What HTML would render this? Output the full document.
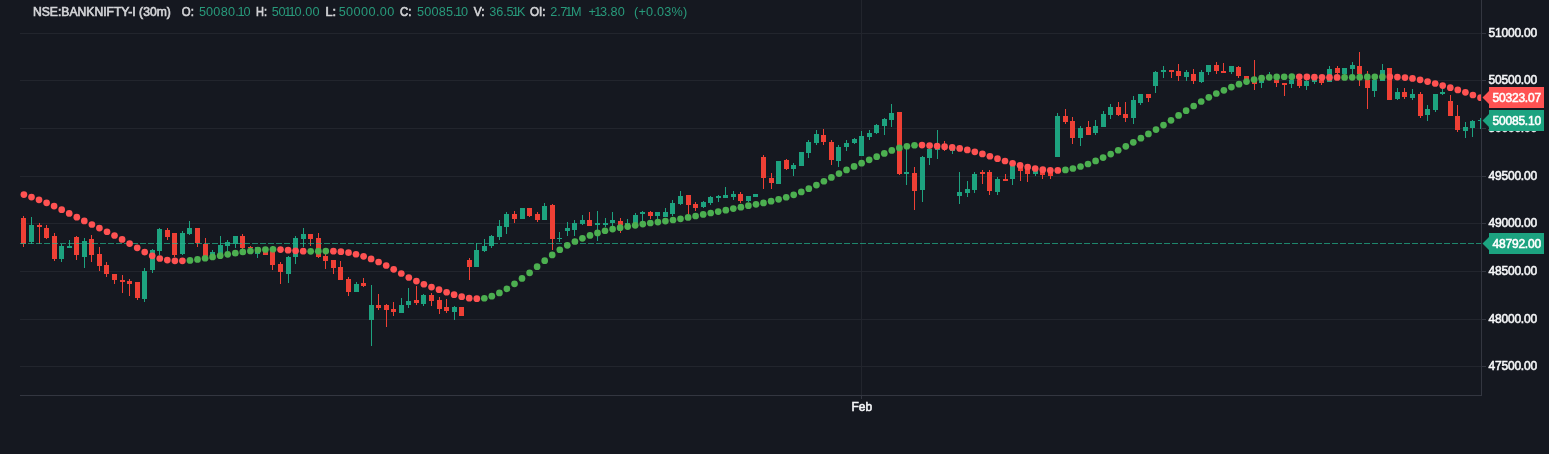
<!DOCTYPE html>
<html><head><meta charset="utf-8"><title>NSE:BANKNIFTY-I</title>
<style>
html,body{margin:0;padding:0;background:#151820;overflow:hidden}
svg{display:block;will-change:transform}
text{font-family:"Liberation Sans",sans-serif;font-size:12px}
.ax{fill:#f4f5f7;stroke:#f4f5f7;stroke-width:0.55px;letter-spacing:-0.2px}
.hl{fill:#d2d3d6;stroke:#d2d3d6;stroke-width:0.65px}
.hv{fill:#289a7b}
.lb{fill:#fff;stroke:#fff;stroke-width:0.55px;letter-spacing:-0.2px}
</style></head><body>
<svg width="1549" height="454" viewBox="0 0 1549 454">
<rect x="0" y="0" width="1549" height="454" fill="#151820"/>
<g shape-rendering="crispEdges">
<rect x="20" y="33" width="1461" height="1" fill="#22252d"/><rect x="1482" y="33" width="4" height="1" fill="#333640"/>
<rect x="20" y="80" width="1461" height="1" fill="#22252d"/><rect x="1482" y="80" width="4" height="1" fill="#333640"/>
<rect x="20" y="128" width="1461" height="1" fill="#22252d"/><rect x="1482" y="128" width="4" height="1" fill="#333640"/>
<rect x="20" y="176" width="1461" height="1" fill="#22252d"/><rect x="1482" y="176" width="4" height="1" fill="#333640"/>
<rect x="20" y="223" width="1461" height="1" fill="#22252d"/><rect x="1482" y="223" width="4" height="1" fill="#333640"/>
<rect x="20" y="271" width="1461" height="1" fill="#22252d"/><rect x="1482" y="271" width="4" height="1" fill="#333640"/>
<rect x="20" y="319" width="1461" height="1" fill="#22252d"/><rect x="1482" y="319" width="4" height="1" fill="#333640"/>
<rect x="20" y="366" width="1461" height="1" fill="#22252d"/><rect x="1482" y="366" width="4" height="1" fill="#333640"/>
<rect x="861" y="0" width="1" height="395" fill="#22252d"/>
<rect x="20" y="395" width="1462" height="1" fill="#333640"/>
<rect x="1481" y="0" width="1" height="396" fill="#333640"/>
<rect x="861" y="396" width="1" height="3" fill="#333640"/>
</g>
<text class="ax" x="1488.5" y="37">51000.00</text>
<text class="ax" x="1488.5" y="84">50500.00</text>
<text class="ax" x="1488.5" y="132">50000.00</text>
<text class="ax" x="1488.5" y="180">49500.00</text>
<text class="ax" x="1488.5" y="227">49000.00</text>
<text class="ax" x="1488.5" y="275">48500.00</text>
<text class="ax" x="1488.5" y="323">48000.00</text>
<text class="ax" x="1488.5" y="370">47500.00</text>
<text class="ax" x="851.5" y="411" style="letter-spacing:0">Feb</text>
<clipPath id="pane"><rect x="20" y="0" width="1461" height="395"/></clipPath>
<g clip-path="url(#pane)">
<g shape-rendering="crispEdges">
<rect x="23" y="216" width="1" height="31" fill="#ee4035"/><rect x="21" y="218" width="5" height="26" fill="#ee4035"/>
<rect x="31" y="217" width="1" height="27" fill="#1da27f"/><rect x="29" y="225" width="5" height="17" fill="#1da27f"/>
<rect x="39" y="223" width="1" height="21" fill="#ee4035"/><rect x="37" y="225" width="5" height="2" fill="#ee4035"/>
<rect x="46" y="225" width="1" height="14" fill="#ee4035"/><rect x="44" y="228" width="5" height="10" fill="#ee4035"/>
<rect x="54" y="233" width="1" height="28" fill="#ee4035"/><rect x="52" y="236" width="5" height="23" fill="#ee4035"/>
<rect x="61" y="244" width="1" height="18" fill="#1da27f"/><rect x="59" y="246" width="5" height="13" fill="#1da27f"/>
<rect x="69" y="240" width="1" height="8" fill="#1da27f"/><rect x="67" y="246" width="5" height="2" fill="#1da27f"/>
<rect x="76" y="236" width="1" height="24" fill="#ee4035"/><rect x="74" y="237" width="5" height="18" fill="#ee4035"/>
<rect x="84" y="238" width="1" height="30" fill="#1da27f"/><rect x="82" y="241" width="5" height="16" fill="#1da27f"/>
<rect x="91" y="235" width="1" height="27" fill="#ee4035"/><rect x="89" y="239" width="5" height="16" fill="#ee4035"/>
<rect x="99" y="247" width="1" height="24" fill="#ee4035"/><rect x="97" y="254" width="5" height="12" fill="#ee4035"/>
<rect x="106" y="262" width="1" height="15" fill="#ee4035"/><rect x="104" y="265" width="5" height="9" fill="#ee4035"/>
<rect x="114" y="274" width="1" height="10" fill="#ee4035"/><rect x="112" y="274" width="5" height="6" fill="#ee4035"/>
<rect x="122" y="275" width="1" height="18" fill="#ee4035"/><rect x="120" y="280" width="5" height="2" fill="#ee4035"/>
<rect x="129" y="279" width="1" height="17" fill="#ee4035"/><rect x="127" y="281" width="5" height="3" fill="#ee4035"/>
<rect x="137" y="282" width="1" height="18" fill="#ee4035"/><rect x="135" y="282" width="5" height="16" fill="#ee4035"/>
<rect x="144" y="268" width="1" height="34" fill="#1da27f"/><rect x="142" y="271" width="5" height="28" fill="#1da27f"/>
<rect x="152" y="249" width="1" height="24" fill="#1da27f"/><rect x="150" y="250" width="5" height="20" fill="#1da27f"/>
<rect x="159" y="228" width="1" height="27" fill="#1da27f"/><rect x="157" y="229" width="5" height="22" fill="#1da27f"/>
<rect x="167" y="228" width="1" height="12" fill="#ee4035"/><rect x="165" y="230" width="5" height="7" fill="#ee4035"/>
<rect x="174" y="233" width="1" height="24" fill="#ee4035"/><rect x="172" y="233" width="5" height="22" fill="#ee4035"/>
<rect x="182" y="231" width="1" height="24" fill="#1da27f"/><rect x="180" y="233" width="5" height="21" fill="#1da27f"/>
<rect x="189" y="221" width="1" height="14" fill="#1da27f"/><rect x="187" y="228" width="5" height="6" fill="#1da27f"/>
<rect x="197" y="228" width="1" height="19" fill="#ee4035"/><rect x="195" y="228" width="5" height="15" fill="#ee4035"/>
<rect x="205" y="238" width="1" height="19" fill="#ee4035"/><rect x="203" y="244" width="5" height="12" fill="#ee4035"/>
<rect x="212" y="250" width="1" height="5" fill="#1da27f"/><rect x="210" y="252" width="5" height="3" fill="#1da27f"/>
<rect x="220" y="236" width="1" height="19" fill="#1da27f"/><rect x="218" y="245" width="5" height="9" fill="#1da27f"/>
<rect x="227" y="240" width="1" height="11" fill="#1da27f"/><rect x="225" y="242" width="5" height="4" fill="#1da27f"/>
<rect x="235" y="236" width="1" height="12" fill="#1da27f"/><rect x="233" y="236" width="5" height="8" fill="#1da27f"/>
<rect x="242" y="234" width="1" height="16" fill="#ee4035"/><rect x="240" y="236" width="5" height="12" fill="#ee4035"/>
<rect x="250" y="246" width="1" height="3" fill="#ee4035"/><rect x="248" y="247" width="5" height="1" fill="#ee4035"/>
<rect x="257" y="247" width="1" height="11" fill="#1da27f"/><rect x="255" y="247" width="5" height="7" fill="#1da27f"/>
<rect x="265" y="251" width="1" height="4" fill="#ee4035"/><rect x="263" y="252" width="5" height="3" fill="#ee4035"/>
<rect x="272" y="246" width="1" height="24" fill="#ee4035"/><rect x="270" y="250" width="5" height="15" fill="#ee4035"/>
<rect x="280" y="262" width="1" height="22" fill="#ee4035"/><rect x="278" y="264" width="5" height="8" fill="#ee4035"/>
<rect x="288" y="256" width="1" height="27" fill="#1da27f"/><rect x="286" y="257" width="5" height="17" fill="#1da27f"/>
<rect x="295" y="236" width="1" height="28" fill="#1da27f"/><rect x="293" y="238" width="5" height="19" fill="#1da27f"/>
<rect x="303" y="228" width="1" height="19" fill="#1da27f"/><rect x="301" y="234" width="5" height="5" fill="#1da27f"/>
<rect x="310" y="234" width="1" height="12" fill="#ee4035"/><rect x="308" y="234" width="5" height="5" fill="#ee4035"/>
<rect x="318" y="233" width="1" height="25" fill="#ee4035"/><rect x="316" y="238" width="5" height="19" fill="#ee4035"/>
<rect x="325" y="254" width="1" height="15" fill="#ee4035"/><rect x="323" y="256" width="5" height="5" fill="#ee4035"/>
<rect x="333" y="260" width="1" height="14" fill="#ee4035"/><rect x="331" y="260" width="5" height="8" fill="#ee4035"/>
<rect x="340" y="261" width="1" height="19" fill="#ee4035"/><rect x="338" y="267" width="5" height="13" fill="#ee4035"/>
<rect x="348" y="277" width="1" height="19" fill="#ee4035"/><rect x="346" y="279" width="5" height="13" fill="#ee4035"/>
<rect x="356" y="282" width="1" height="10" fill="#1da27f"/><rect x="354" y="284" width="5" height="8" fill="#1da27f"/>
<rect x="363" y="278" width="1" height="9" fill="#ee4035"/><rect x="361" y="283" width="5" height="3" fill="#ee4035"/>
<rect x="371" y="285" width="1" height="61" fill="#1da27f"/><rect x="369" y="305" width="5" height="15" fill="#1da27f"/>
<rect x="378" y="294" width="1" height="16" fill="#ee4035"/><rect x="376" y="305" width="5" height="3" fill="#ee4035"/>
<rect x="386" y="304" width="1" height="23" fill="#ee4035"/><rect x="384" y="305" width="5" height="5" fill="#ee4035"/>
<rect x="393" y="302" width="1" height="14" fill="#ee4035"/><rect x="391" y="309" width="5" height="3" fill="#ee4035"/>
<rect x="401" y="298" width="1" height="15" fill="#1da27f"/><rect x="399" y="305" width="5" height="8" fill="#1da27f"/>
<rect x="408" y="288" width="1" height="20" fill="#1da27f"/><rect x="406" y="301" width="5" height="4" fill="#1da27f"/>
<rect x="416" y="286" width="1" height="19" fill="#ee4035"/><rect x="414" y="300" width="5" height="3" fill="#ee4035"/>
<rect x="423" y="294" width="1" height="12" fill="#1da27f"/><rect x="421" y="295" width="5" height="9" fill="#1da27f"/>
<rect x="431" y="293" width="1" height="13" fill="#ee4035"/><rect x="429" y="295" width="5" height="6" fill="#ee4035"/>
<rect x="439" y="297" width="1" height="17" fill="#ee4035"/><rect x="437" y="300" width="5" height="9" fill="#ee4035"/>
<rect x="446" y="299" width="1" height="14" fill="#ee4035"/><rect x="444" y="307" width="5" height="4" fill="#ee4035"/>
<rect x="454" y="306" width="1" height="14" fill="#1da27f"/><rect x="452" y="307" width="5" height="5" fill="#1da27f"/>
<rect x="461" y="307" width="1" height="9" fill="#ee4035"/><rect x="459" y="307" width="5" height="9" fill="#ee4035"/>
<rect x="469" y="258" width="1" height="22" fill="#ee4035"/><rect x="467" y="260" width="5" height="7" fill="#ee4035"/>
<rect x="476" y="243" width="1" height="24" fill="#1da27f"/><rect x="474" y="250" width="5" height="17" fill="#1da27f"/>
<rect x="484" y="239" width="1" height="13" fill="#1da27f"/><rect x="482" y="246" width="5" height="5" fill="#1da27f"/>
<rect x="491" y="235" width="1" height="13" fill="#1da27f"/><rect x="489" y="236" width="5" height="10" fill="#1da27f"/>
<rect x="499" y="220" width="1" height="20" fill="#1da27f"/><rect x="497" y="226" width="5" height="11" fill="#1da27f"/>
<rect x="506" y="212" width="1" height="22" fill="#1da27f"/><rect x="504" y="214" width="5" height="13" fill="#1da27f"/>
<rect x="514" y="211" width="1" height="12" fill="#ee4035"/><rect x="512" y="214" width="5" height="5" fill="#ee4035"/>
<rect x="522" y="208" width="1" height="11" fill="#1da27f"/><rect x="520" y="208" width="5" height="11" fill="#1da27f"/>
<rect x="529" y="208" width="1" height="9" fill="#ee4035"/><rect x="527" y="208" width="5" height="8" fill="#ee4035"/>
<rect x="537" y="212" width="1" height="10" fill="#ee4035"/><rect x="535" y="214" width="5" height="6" fill="#ee4035"/>
<rect x="544" y="203" width="1" height="17" fill="#1da27f"/><rect x="542" y="206" width="5" height="14" fill="#1da27f"/>
<rect x="552" y="204" width="1" height="46" fill="#ee4035"/><rect x="550" y="205" width="5" height="34" fill="#ee4035"/>
<rect x="559" y="232" width="1" height="10" fill="#1da27f"/><rect x="557" y="238" width="5" height="1" fill="#1da27f"/>
<rect x="567" y="222" width="1" height="14" fill="#1da27f"/><rect x="565" y="228" width="5" height="3" fill="#1da27f"/>
<rect x="574" y="220" width="1" height="16" fill="#1da27f"/><rect x="572" y="223" width="5" height="7" fill="#1da27f"/>
<rect x="582" y="215" width="1" height="10" fill="#1da27f"/><rect x="580" y="220" width="5" height="4" fill="#1da27f"/>
<rect x="589" y="212" width="1" height="14" fill="#ee4035"/><rect x="587" y="220" width="5" height="6" fill="#ee4035"/>
<rect x="597" y="211" width="1" height="30" fill="#1da27f"/><rect x="595" y="223" width="5" height="2" fill="#1da27f"/>
<rect x="605" y="218" width="1" height="9" fill="#1da27f"/><rect x="603" y="223" width="5" height="2" fill="#1da27f"/>
<rect x="612" y="212" width="1" height="14" fill="#1da27f"/><rect x="610" y="220" width="5" height="3" fill="#1da27f"/>
<rect x="620" y="218" width="1" height="15" fill="#ee4035"/><rect x="618" y="221" width="5" height="4" fill="#ee4035"/>
<rect x="627" y="219" width="1" height="6" fill="#1da27f"/><rect x="625" y="223" width="5" height="2" fill="#1da27f"/>
<rect x="635" y="213" width="1" height="10" fill="#1da27f"/><rect x="633" y="215" width="5" height="8" fill="#1da27f"/>
<rect x="642" y="211" width="1" height="10" fill="#1da27f"/><rect x="640" y="212" width="5" height="2" fill="#1da27f"/>
<rect x="650" y="211" width="1" height="8" fill="#ee4035"/><rect x="648" y="212" width="5" height="4" fill="#ee4035"/>
<rect x="657" y="212" width="1" height="7" fill="#1da27f"/><rect x="655" y="212" width="5" height="4" fill="#1da27f"/>
<rect x="665" y="208" width="1" height="9" fill="#1da27f"/><rect x="663" y="212" width="5" height="5" fill="#1da27f"/>
<rect x="672" y="200" width="1" height="16" fill="#1da27f"/><rect x="670" y="203" width="5" height="11" fill="#1da27f"/>
<rect x="680" y="191" width="1" height="14" fill="#1da27f"/><rect x="678" y="196" width="5" height="8" fill="#1da27f"/>
<rect x="688" y="195" width="1" height="19" fill="#ee4035"/><rect x="686" y="195" width="5" height="10" fill="#ee4035"/>
<rect x="695" y="202" width="1" height="9" fill="#ee4035"/><rect x="693" y="204" width="5" height="4" fill="#ee4035"/>
<rect x="703" y="201" width="1" height="7" fill="#1da27f"/><rect x="701" y="202" width="5" height="5" fill="#1da27f"/>
<rect x="710" y="196" width="1" height="9" fill="#1da27f"/><rect x="708" y="197" width="5" height="6" fill="#1da27f"/>
<rect x="718" y="195" width="1" height="7" fill="#1da27f"/><rect x="716" y="196" width="5" height="2" fill="#1da27f"/>
<rect x="725" y="187" width="1" height="11" fill="#1da27f"/><rect x="723" y="195" width="5" height="3" fill="#1da27f"/>
<rect x="733" y="191" width="1" height="9" fill="#1da27f"/><rect x="731" y="194" width="5" height="3" fill="#1da27f"/>
<rect x="740" y="192" width="1" height="11" fill="#ee4035"/><rect x="738" y="194" width="5" height="7" fill="#ee4035"/>
<rect x="748" y="196" width="1" height="6" fill="#1da27f"/><rect x="746" y="196" width="5" height="5" fill="#1da27f"/>
<rect x="755" y="194" width="1" height="3" fill="#1da27f"/><rect x="753" y="194" width="5" height="3" fill="#1da27f"/>
<rect x="763" y="155" width="1" height="34" fill="#ee4035"/><rect x="761" y="157" width="5" height="21" fill="#ee4035"/>
<rect x="771" y="173" width="1" height="16" fill="#ee4035"/><rect x="769" y="178" width="5" height="5" fill="#ee4035"/>
<rect x="778" y="161" width="1" height="23" fill="#1da27f"/><rect x="776" y="161" width="5" height="23" fill="#1da27f"/>
<rect x="786" y="159" width="1" height="11" fill="#ee4035"/><rect x="784" y="160" width="5" height="9" fill="#ee4035"/>
<rect x="793" y="163" width="1" height="13" fill="#1da27f"/><rect x="791" y="165" width="5" height="4" fill="#1da27f"/>
<rect x="801" y="152" width="1" height="14" fill="#1da27f"/><rect x="799" y="152" width="5" height="14" fill="#1da27f"/>
<rect x="808" y="140" width="1" height="18" fill="#1da27f"/><rect x="806" y="142" width="5" height="11" fill="#1da27f"/>
<rect x="816" y="130" width="1" height="15" fill="#1da27f"/><rect x="814" y="134" width="5" height="9" fill="#1da27f"/>
<rect x="823" y="129" width="1" height="16" fill="#ee4035"/><rect x="821" y="135" width="5" height="7" fill="#ee4035"/>
<rect x="831" y="140" width="1" height="25" fill="#ee4035"/><rect x="829" y="142" width="5" height="18" fill="#ee4035"/>
<rect x="838" y="145" width="1" height="22" fill="#1da27f"/><rect x="836" y="147" width="5" height="14" fill="#1da27f"/>
<rect x="846" y="140" width="1" height="11" fill="#1da27f"/><rect x="844" y="143" width="5" height="4" fill="#1da27f"/>
<rect x="854" y="138" width="1" height="6" fill="#1da27f"/><rect x="852" y="139" width="5" height="4" fill="#1da27f"/>
<rect x="861" y="131" width="1" height="25" fill="#1da27f"/><rect x="859" y="136" width="5" height="20" fill="#1da27f"/>
<rect x="869" y="130" width="1" height="10" fill="#1da27f"/><rect x="867" y="133" width="5" height="4" fill="#1da27f"/>
<rect x="876" y="124" width="1" height="10" fill="#1da27f"/><rect x="874" y="125" width="5" height="8" fill="#1da27f"/>
<rect x="884" y="118" width="1" height="17" fill="#1da27f"/><rect x="882" y="119" width="5" height="7" fill="#1da27f"/>
<rect x="891" y="104" width="1" height="23" fill="#1da27f"/><rect x="889" y="113" width="5" height="7" fill="#1da27f"/>
<rect x="899" y="112" width="1" height="63" fill="#ee4035"/><rect x="897" y="112" width="5" height="62" fill="#ee4035"/>
<rect x="906" y="147" width="1" height="38" fill="#1da27f"/><rect x="904" y="172" width="5" height="2" fill="#1da27f"/>
<rect x="914" y="167" width="1" height="43" fill="#ee4035"/><rect x="912" y="173" width="5" height="18" fill="#ee4035"/>
<rect x="922" y="156" width="1" height="46" fill="#1da27f"/><rect x="920" y="157" width="5" height="33" fill="#1da27f"/>
<rect x="929" y="148" width="1" height="17" fill="#1da27f"/><rect x="927" y="149" width="5" height="9" fill="#1da27f"/>
<rect x="937" y="130" width="1" height="29" fill="#1da27f"/><rect x="935" y="148" width="5" height="2" fill="#1da27f"/>
<rect x="944" y="141" width="1" height="10" fill="#ee4035"/><rect x="942" y="145" width="5" height="4" fill="#ee4035"/>
<rect x="952" y="149" width="1" height="5" fill="#1da27f"/><rect x="950" y="149" width="5" height="2" fill="#1da27f"/>
<rect x="959" y="172" width="1" height="32" fill="#1da27f"/><rect x="957" y="192" width="5" height="4" fill="#1da27f"/>
<rect x="967" y="181" width="1" height="16" fill="#1da27f"/><rect x="965" y="189" width="5" height="4" fill="#1da27f"/>
<rect x="974" y="172" width="1" height="21" fill="#1da27f"/><rect x="972" y="174" width="5" height="16" fill="#1da27f"/>
<rect x="982" y="170" width="1" height="14" fill="#ee4035"/><rect x="980" y="172" width="5" height="2" fill="#ee4035"/>
<rect x="989" y="170" width="1" height="25" fill="#ee4035"/><rect x="987" y="172" width="5" height="19" fill="#ee4035"/>
<rect x="997" y="177" width="1" height="18" fill="#1da27f"/><rect x="995" y="179" width="5" height="13" fill="#1da27f"/>
<rect x="1005" y="174" width="1" height="7" fill="#ee4035"/><rect x="1003" y="179" width="5" height="2" fill="#ee4035"/>
<rect x="1012" y="165" width="1" height="20" fill="#1da27f"/><rect x="1010" y="166" width="5" height="13" fill="#1da27f"/>
<rect x="1020" y="166" width="1" height="15" fill="#ee4035"/><rect x="1018" y="166" width="5" height="5" fill="#ee4035"/>
<rect x="1027" y="168" width="1" height="14" fill="#ee4035"/><rect x="1025" y="169" width="5" height="5" fill="#ee4035"/>
<rect x="1035" y="170" width="1" height="6" fill="#1da27f"/><rect x="1033" y="170" width="5" height="4" fill="#1da27f"/>
<rect x="1042" y="170" width="1" height="9" fill="#ee4035"/><rect x="1040" y="171" width="5" height="4" fill="#ee4035"/>
<rect x="1050" y="171" width="1" height="8" fill="#ee4035"/><rect x="1048" y="172" width="5" height="4" fill="#ee4035"/>
<rect x="1057" y="113" width="1" height="44" fill="#1da27f"/><rect x="1055" y="116" width="5" height="41" fill="#1da27f"/>
<rect x="1065" y="109" width="1" height="15" fill="#ee4035"/><rect x="1063" y="116" width="5" height="6" fill="#ee4035"/>
<rect x="1072" y="117" width="1" height="27" fill="#ee4035"/><rect x="1070" y="121" width="5" height="17" fill="#ee4035"/>
<rect x="1080" y="126" width="1" height="20" fill="#1da27f"/><rect x="1078" y="128" width="5" height="10" fill="#1da27f"/>
<rect x="1088" y="121" width="1" height="14" fill="#ee4035"/><rect x="1086" y="127" width="5" height="8" fill="#ee4035"/>
<rect x="1095" y="120" width="1" height="15" fill="#1da27f"/><rect x="1093" y="126" width="5" height="7" fill="#1da27f"/>
<rect x="1103" y="111" width="1" height="16" fill="#1da27f"/><rect x="1101" y="114" width="5" height="13" fill="#1da27f"/>
<rect x="1110" y="104" width="1" height="15" fill="#1da27f"/><rect x="1108" y="107" width="5" height="8" fill="#1da27f"/>
<rect x="1118" y="102" width="1" height="14" fill="#ee4035"/><rect x="1116" y="107" width="5" height="8" fill="#ee4035"/>
<rect x="1125" y="102" width="1" height="20" fill="#ee4035"/><rect x="1123" y="114" width="5" height="4" fill="#ee4035"/>
<rect x="1133" y="96" width="1" height="28" fill="#1da27f"/><rect x="1131" y="100" width="5" height="18" fill="#1da27f"/>
<rect x="1140" y="94" width="1" height="11" fill="#1da27f"/><rect x="1138" y="94" width="5" height="9" fill="#1da27f"/>
<rect x="1148" y="94" width="1" height="8" fill="#ee4035"/><rect x="1146" y="94" width="5" height="4" fill="#ee4035"/>
<rect x="1155" y="71" width="1" height="22" fill="#1da27f"/><rect x="1153" y="72" width="5" height="14" fill="#1da27f"/>
<rect x="1163" y="66" width="1" height="12" fill="#1da27f"/><rect x="1161" y="70" width="5" height="2" fill="#1da27f"/>
<rect x="1171" y="70" width="1" height="8" fill="#ee4035"/><rect x="1169" y="70" width="5" height="2" fill="#ee4035"/>
<rect x="1178" y="64" width="1" height="17" fill="#ee4035"/><rect x="1176" y="71" width="5" height="5" fill="#ee4035"/>
<rect x="1186" y="70" width="1" height="11" fill="#1da27f"/><rect x="1184" y="72" width="5" height="5" fill="#1da27f"/>
<rect x="1193" y="69" width="1" height="15" fill="#ee4035"/><rect x="1191" y="74" width="5" height="7" fill="#ee4035"/>
<rect x="1201" y="70" width="1" height="13" fill="#1da27f"/><rect x="1199" y="72" width="5" height="10" fill="#1da27f"/>
<rect x="1208" y="65" width="1" height="10" fill="#1da27f"/><rect x="1206" y="65" width="5" height="7" fill="#1da27f"/>
<rect x="1216" y="62" width="1" height="12" fill="#ee4035"/><rect x="1214" y="65" width="5" height="6" fill="#ee4035"/>
<rect x="1223" y="63" width="1" height="10" fill="#ee4035"/><rect x="1221" y="71" width="5" height="2" fill="#ee4035"/>
<rect x="1231" y="66" width="1" height="8" fill="#1da27f"/><rect x="1229" y="66" width="5" height="6" fill="#1da27f"/>
<rect x="1238" y="66" width="1" height="12" fill="#ee4035"/><rect x="1236" y="67" width="5" height="9" fill="#ee4035"/>
<rect x="1246" y="76" width="1" height="4" fill="#ee4035"/><rect x="1244" y="76" width="5" height="3" fill="#ee4035"/>
<rect x="1254" y="60" width="1" height="30" fill="#ee4035"/><rect x="1252" y="81" width="5" height="3" fill="#ee4035"/>
<rect x="1261" y="80" width="1" height="8" fill="#1da27f"/><rect x="1259" y="81" width="5" height="2" fill="#1da27f"/>
<rect x="1269" y="72" width="1" height="8" fill="#1da27f"/><rect x="1267" y="76" width="5" height="2" fill="#1da27f"/>
<rect x="1276" y="78" width="1" height="9" fill="#ee4035"/><rect x="1274" y="80" width="5" height="3" fill="#ee4035"/>
<rect x="1284" y="83" width="1" height="13" fill="#ee4035"/><rect x="1282" y="83" width="5" height="2" fill="#ee4035"/>
<rect x="1291" y="80" width="1" height="8" fill="#1da27f"/><rect x="1289" y="80" width="5" height="4" fill="#1da27f"/>
<rect x="1299" y="78" width="1" height="10" fill="#ee4035"/><rect x="1297" y="80" width="5" height="6" fill="#ee4035"/>
<rect x="1306" y="80" width="1" height="10" fill="#1da27f"/><rect x="1304" y="81" width="5" height="5" fill="#1da27f"/>
<rect x="1314" y="78" width="1" height="6" fill="#1da27f"/><rect x="1312" y="80" width="5" height="2" fill="#1da27f"/>
<rect x="1321" y="78" width="1" height="7" fill="#ee4035"/><rect x="1319" y="80" width="5" height="3" fill="#ee4035"/>
<rect x="1329" y="66" width="1" height="16" fill="#1da27f"/><rect x="1327" y="69" width="5" height="13" fill="#1da27f"/>
<rect x="1337" y="66" width="1" height="8" fill="#ee4035"/><rect x="1335" y="68" width="5" height="5" fill="#ee4035"/>
<rect x="1344" y="68" width="1" height="7" fill="#1da27f"/><rect x="1342" y="68" width="5" height="6" fill="#1da27f"/>
<rect x="1352" y="62" width="1" height="12" fill="#1da27f"/><rect x="1350" y="65" width="5" height="4" fill="#1da27f"/>
<rect x="1359" y="52" width="1" height="34" fill="#ee4035"/><rect x="1357" y="66" width="5" height="8" fill="#ee4035"/>
<rect x="1367" y="71" width="1" height="38" fill="#ee4035"/><rect x="1365" y="80" width="5" height="8" fill="#ee4035"/>
<rect x="1374" y="80" width="1" height="17" fill="#1da27f"/><rect x="1372" y="80" width="5" height="11" fill="#1da27f"/>
<rect x="1382" y="64" width="1" height="17" fill="#1da27f"/><rect x="1380" y="70" width="5" height="11" fill="#1da27f"/>
<rect x="1389" y="68" width="1" height="32" fill="#ee4035"/><rect x="1387" y="68" width="5" height="32" fill="#ee4035"/>
<rect x="1397" y="88" width="1" height="12" fill="#1da27f"/><rect x="1395" y="92" width="5" height="7" fill="#1da27f"/>
<rect x="1404" y="88" width="1" height="11" fill="#ee4035"/><rect x="1402" y="92" width="5" height="5" fill="#ee4035"/>
<rect x="1412" y="89" width="1" height="11" fill="#1da27f"/><rect x="1410" y="94" width="5" height="4" fill="#1da27f"/>
<rect x="1420" y="92" width="1" height="26" fill="#ee4035"/><rect x="1418" y="94" width="5" height="22" fill="#ee4035"/>
<rect x="1427" y="105" width="1" height="16" fill="#1da27f"/><rect x="1425" y="109" width="5" height="6" fill="#1da27f"/>
<rect x="1435" y="94" width="1" height="18" fill="#1da27f"/><rect x="1433" y="94" width="5" height="16" fill="#1da27f"/>
<rect x="1442" y="89" width="1" height="6" fill="#1da27f"/><rect x="1440" y="92" width="5" height="2" fill="#1da27f"/>
<rect x="1450" y="95" width="1" height="21" fill="#ee4035"/><rect x="1448" y="101" width="5" height="15" fill="#ee4035"/>
<rect x="1457" y="105" width="1" height="27" fill="#ee4035"/><rect x="1455" y="116" width="5" height="14" fill="#ee4035"/>
<rect x="1465" y="122" width="1" height="16" fill="#1da27f"/><rect x="1463" y="127" width="5" height="4" fill="#1da27f"/>
<rect x="1472" y="120" width="1" height="17" fill="#1da27f"/><rect x="1470" y="121" width="5" height="7" fill="#1da27f"/>
<rect x="1480" y="118" width="1" height="11" fill="#1da27f"/><rect x="1478" y="120" width="5" height="1" fill="#1da27f"/>
</g>
<line x1="20" y1="243.5" x2="1483" y2="243.5" stroke="#22b48d" stroke-opacity="0.7" stroke-width="1" stroke-dasharray="6 2" shape-rendering="crispEdges"/>
<g>
<circle cx="23.9" cy="194.59" r="3.35" fill="#ff5252"/>
<circle cx="31.5" cy="197.10" r="3.35" fill="#ff5252"/>
<circle cx="39.0" cy="199.81" r="3.35" fill="#ff5252"/>
<circle cx="46.6" cy="202.82" r="3.35" fill="#ff5252"/>
<circle cx="54.1" cy="206.12" r="3.35" fill="#ff5252"/>
<circle cx="61.7" cy="209.72" r="3.35" fill="#ff5252"/>
<circle cx="69.2" cy="213.45" r="3.35" fill="#ff5252"/>
<circle cx="76.8" cy="217.17" r="3.35" fill="#ff5252"/>
<circle cx="84.3" cy="220.88" r="3.35" fill="#ff5252"/>
<circle cx="91.9" cy="224.50" r="3.35" fill="#ff5252"/>
<circle cx="99.4" cy="228.07" r="3.35" fill="#ff5252"/>
<circle cx="107.0" cy="231.77" r="3.35" fill="#ff5252"/>
<circle cx="114.5" cy="235.51" r="3.35" fill="#ff5252"/>
<circle cx="122.1" cy="239.40" r="3.35" fill="#ff5252"/>
<circle cx="129.6" cy="243.55" r="3.35" fill="#ff5252"/>
<circle cx="137.2" cy="247.84" r="3.35" fill="#ff5252"/>
<circle cx="144.7" cy="252.10" r="3.35" fill="#ff5252"/>
<circle cx="152.2" cy="255.84" r="3.35" fill="#ff5252"/>
<circle cx="159.8" cy="258.52" r="3.35" fill="#ff5252"/>
<circle cx="167.3" cy="260.12" r="3.35" fill="#ff5252"/>
<circle cx="174.9" cy="260.83" r="3.35" fill="#ff5252"/>
<circle cx="182.4" cy="260.80" r="3.35" fill="#ff5252"/>
<circle cx="190.0" cy="260.40" r="3.35" fill="#4caf50"/>
<circle cx="197.5" cy="259.46" r="3.35" fill="#4caf50"/>
<circle cx="205.1" cy="258.25" r="3.35" fill="#4caf50"/>
<circle cx="212.6" cy="256.97" r="3.35" fill="#4caf50"/>
<circle cx="220.2" cy="255.65" r="3.35" fill="#4caf50"/>
<circle cx="227.7" cy="254.35" r="3.35" fill="#4caf50"/>
<circle cx="235.3" cy="253.15" r="3.35" fill="#4caf50"/>
<circle cx="242.8" cy="251.96" r="3.35" fill="#4caf50"/>
<circle cx="250.4" cy="250.98" r="3.35" fill="#4caf50"/>
<circle cx="257.9" cy="250.09" r="3.35" fill="#4caf50"/>
<circle cx="265.4" cy="249.48" r="3.35" fill="#4caf50"/>
<circle cx="273.0" cy="249.25" r="3.35" fill="#4caf50"/>
<circle cx="280.5" cy="249.55" r="3.35" fill="#ff5252"/>
<circle cx="288.1" cy="250.15" r="3.35" fill="#ff5252"/>
<circle cx="295.6" cy="250.78" r="3.35" fill="#ff5252"/>
<circle cx="303.2" cy="251.15" r="3.35" fill="#ff5252"/>
<circle cx="310.7" cy="251.28" r="3.35" fill="#4caf50"/>
<circle cx="318.3" cy="251.18" r="3.35" fill="#4caf50"/>
<circle cx="325.8" cy="251.12" r="3.35" fill="#4caf50"/>
<circle cx="333.4" cy="251.22" r="3.35" fill="#ff5252"/>
<circle cx="340.9" cy="251.68" r="3.35" fill="#ff5252"/>
<circle cx="348.5" cy="252.68" r="3.35" fill="#ff5252"/>
<circle cx="356.0" cy="254.25" r="3.35" fill="#ff5252"/>
<circle cx="363.6" cy="256.37" r="3.35" fill="#ff5252"/>
<circle cx="371.1" cy="258.94" r="3.35" fill="#ff5252"/>
<circle cx="378.6" cy="261.98" r="3.35" fill="#ff5252"/>
<circle cx="386.2" cy="265.52" r="3.35" fill="#ff5252"/>
<circle cx="393.7" cy="269.35" r="3.35" fill="#ff5252"/>
<circle cx="401.3" cy="273.48" r="3.35" fill="#ff5252"/>
<circle cx="408.8" cy="277.49" r="3.35" fill="#ff5252"/>
<circle cx="416.4" cy="281.07" r="3.35" fill="#ff5252"/>
<circle cx="423.9" cy="284.25" r="3.35" fill="#ff5252"/>
<circle cx="431.5" cy="287.11" r="3.35" fill="#ff5252"/>
<circle cx="439.0" cy="289.68" r="3.35" fill="#ff5252"/>
<circle cx="446.6" cy="292.27" r="3.35" fill="#ff5252"/>
<circle cx="454.1" cy="294.66" r="3.35" fill="#ff5252"/>
<circle cx="461.7" cy="296.69" r="3.35" fill="#ff5252"/>
<circle cx="469.2" cy="298.15" r="3.35" fill="#ff5252"/>
<circle cx="476.8" cy="298.67" r="3.35" fill="#ff5252"/>
<circle cx="484.3" cy="298.26" r="3.35" fill="#4caf50"/>
<circle cx="491.8" cy="296.22" r="3.35" fill="#4caf50"/>
<circle cx="499.4" cy="292.97" r="3.35" fill="#4caf50"/>
<circle cx="506.9" cy="288.78" r="3.35" fill="#4caf50"/>
<circle cx="514.5" cy="283.87" r="3.35" fill="#4caf50"/>
<circle cx="522.0" cy="278.46" r="3.35" fill="#4caf50"/>
<circle cx="529.6" cy="272.84" r="3.35" fill="#4caf50"/>
<circle cx="537.1" cy="266.72" r="3.35" fill="#4caf50"/>
<circle cx="544.7" cy="260.68" r="3.35" fill="#4caf50"/>
<circle cx="552.2" cy="254.97" r="3.35" fill="#4caf50"/>
<circle cx="559.8" cy="249.76" r="3.35" fill="#4caf50"/>
<circle cx="567.3" cy="245.35" r="3.35" fill="#4caf50"/>
<circle cx="574.9" cy="241.50" r="3.35" fill="#4caf50"/>
<circle cx="582.4" cy="238.31" r="3.35" fill="#4caf50"/>
<circle cx="590.0" cy="235.45" r="3.35" fill="#4caf50"/>
<circle cx="597.5" cy="232.93" r="3.35" fill="#4caf50"/>
<circle cx="605.0" cy="230.77" r="3.35" fill="#4caf50"/>
<circle cx="612.6" cy="229.10" r="3.35" fill="#4caf50"/>
<circle cx="620.1" cy="227.70" r="3.35" fill="#4caf50"/>
<circle cx="627.7" cy="226.54" r="3.35" fill="#4caf50"/>
<circle cx="635.2" cy="225.31" r="3.35" fill="#4caf50"/>
<circle cx="642.8" cy="224.12" r="3.35" fill="#4caf50"/>
<circle cx="650.3" cy="223.02" r="3.35" fill="#4caf50"/>
<circle cx="657.9" cy="222.05" r="3.35" fill="#4caf50"/>
<circle cx="665.4" cy="221.08" r="3.35" fill="#4caf50"/>
<circle cx="673.0" cy="220.00" r="3.35" fill="#4caf50"/>
<circle cx="680.5" cy="218.83" r="3.35" fill="#4caf50"/>
<circle cx="688.1" cy="217.45" r="3.35" fill="#4caf50"/>
<circle cx="695.6" cy="215.99" r="3.35" fill="#4caf50"/>
<circle cx="703.2" cy="214.47" r="3.35" fill="#4caf50"/>
<circle cx="710.7" cy="213.01" r="3.35" fill="#4caf50"/>
<circle cx="718.2" cy="211.61" r="3.35" fill="#4caf50"/>
<circle cx="725.8" cy="210.17" r="3.35" fill="#4caf50"/>
<circle cx="733.3" cy="208.62" r="3.35" fill="#4caf50"/>
<circle cx="740.9" cy="207.16" r="3.35" fill="#4caf50"/>
<circle cx="748.4" cy="205.70" r="3.35" fill="#4caf50"/>
<circle cx="756.0" cy="204.31" r="3.35" fill="#4caf50"/>
<circle cx="763.5" cy="202.90" r="3.35" fill="#4caf50"/>
<circle cx="771.1" cy="201.22" r="3.35" fill="#4caf50"/>
<circle cx="778.6" cy="199.33" r="3.35" fill="#4caf50"/>
<circle cx="786.2" cy="197.25" r="3.35" fill="#4caf50"/>
<circle cx="793.7" cy="194.79" r="3.35" fill="#4caf50"/>
<circle cx="801.3" cy="191.94" r="3.35" fill="#4caf50"/>
<circle cx="808.8" cy="188.69" r="3.35" fill="#4caf50"/>
<circle cx="816.4" cy="185.05" r="3.35" fill="#4caf50"/>
<circle cx="823.9" cy="181.24" r="3.35" fill="#4caf50"/>
<circle cx="831.4" cy="177.43" r="3.35" fill="#4caf50"/>
<circle cx="839.0" cy="173.59" r="3.35" fill="#4caf50"/>
<circle cx="846.5" cy="169.90" r="3.35" fill="#4caf50"/>
<circle cx="854.1" cy="166.44" r="3.35" fill="#4caf50"/>
<circle cx="861.6" cy="163.16" r="3.35" fill="#4caf50"/>
<circle cx="869.2" cy="159.84" r="3.35" fill="#4caf50"/>
<circle cx="876.7" cy="156.64" r="3.35" fill="#4caf50"/>
<circle cx="884.3" cy="153.42" r="3.35" fill="#4caf50"/>
<circle cx="891.8" cy="150.46" r="3.35" fill="#4caf50"/>
<circle cx="899.4" cy="147.96" r="3.35" fill="#4caf50"/>
<circle cx="906.9" cy="146.24" r="3.35" fill="#4caf50"/>
<circle cx="914.5" cy="145.24" r="3.35" fill="#4caf50"/>
<circle cx="922.0" cy="145.10" r="3.35" fill="#ff5252"/>
<circle cx="929.6" cy="145.49" r="3.35" fill="#ff5252"/>
<circle cx="937.1" cy="146.04" r="3.35" fill="#ff5252"/>
<circle cx="944.6" cy="146.67" r="3.35" fill="#ff5252"/>
<circle cx="952.2" cy="147.42" r="3.35" fill="#ff5252"/>
<circle cx="959.7" cy="148.46" r="3.35" fill="#ff5252"/>
<circle cx="967.3" cy="149.92" r="3.35" fill="#ff5252"/>
<circle cx="974.8" cy="151.80" r="3.35" fill="#ff5252"/>
<circle cx="982.4" cy="153.91" r="3.35" fill="#ff5252"/>
<circle cx="989.9" cy="156.24" r="3.35" fill="#ff5252"/>
<circle cx="997.5" cy="158.65" r="3.35" fill="#ff5252"/>
<circle cx="1005.0" cy="161.01" r="3.35" fill="#ff5252"/>
<circle cx="1012.6" cy="163.25" r="3.35" fill="#ff5252"/>
<circle cx="1020.1" cy="165.28" r="3.35" fill="#ff5252"/>
<circle cx="1027.7" cy="167.01" r="3.35" fill="#ff5252"/>
<circle cx="1035.2" cy="168.50" r="3.35" fill="#ff5252"/>
<circle cx="1042.8" cy="169.67" r="3.35" fill="#ff5252"/>
<circle cx="1050.3" cy="170.36" r="3.35" fill="#ff5252"/>
<circle cx="1057.8" cy="170.46" r="3.35" fill="#ff5252"/>
<circle cx="1065.4" cy="169.90" r="3.35" fill="#4caf50"/>
<circle cx="1072.9" cy="168.49" r="3.35" fill="#4caf50"/>
<circle cx="1080.5" cy="166.51" r="3.35" fill="#4caf50"/>
<circle cx="1088.0" cy="163.99" r="3.35" fill="#4caf50"/>
<circle cx="1095.6" cy="160.94" r="3.35" fill="#4caf50"/>
<circle cx="1103.1" cy="157.56" r="3.35" fill="#4caf50"/>
<circle cx="1110.7" cy="154.03" r="3.35" fill="#4caf50"/>
<circle cx="1118.2" cy="150.25" r="3.35" fill="#4caf50"/>
<circle cx="1125.8" cy="146.37" r="3.35" fill="#4caf50"/>
<circle cx="1133.3" cy="142.35" r="3.35" fill="#4caf50"/>
<circle cx="1140.9" cy="138.18" r="3.35" fill="#4caf50"/>
<circle cx="1148.4" cy="133.94" r="3.35" fill="#4caf50"/>
<circle cx="1156.0" cy="129.60" r="3.35" fill="#4caf50"/>
<circle cx="1163.5" cy="125.08" r="3.35" fill="#4caf50"/>
<circle cx="1171.0" cy="120.30" r="3.35" fill="#4caf50"/>
<circle cx="1178.6" cy="115.45" r="3.35" fill="#4caf50"/>
<circle cx="1186.1" cy="110.65" r="3.35" fill="#4caf50"/>
<circle cx="1193.7" cy="105.98" r="3.35" fill="#4caf50"/>
<circle cx="1201.2" cy="101.52" r="3.35" fill="#4caf50"/>
<circle cx="1208.8" cy="97.37" r="3.35" fill="#4caf50"/>
<circle cx="1216.3" cy="93.50" r="3.35" fill="#4caf50"/>
<circle cx="1223.9" cy="90.37" r="3.35" fill="#4caf50"/>
<circle cx="1231.4" cy="87.12" r="3.35" fill="#4caf50"/>
<circle cx="1239.0" cy="84.14" r="3.35" fill="#4caf50"/>
<circle cx="1246.5" cy="81.59" r="3.35" fill="#4caf50"/>
<circle cx="1254.1" cy="79.61" r="3.35" fill="#4caf50"/>
<circle cx="1261.6" cy="78.20" r="3.35" fill="#4caf50"/>
<circle cx="1269.2" cy="77.33" r="3.35" fill="#4caf50"/>
<circle cx="1276.7" cy="76.91" r="3.35" fill="#4caf50"/>
<circle cx="1284.2" cy="76.75" r="3.35" fill="#4caf50"/>
<circle cx="1291.8" cy="76.70" r="3.35" fill="#4caf50"/>
<circle cx="1299.3" cy="76.80" r="3.35" fill="#ff5252"/>
<circle cx="1306.9" cy="76.94" r="3.35" fill="#ff5252"/>
<circle cx="1314.4" cy="77.13" r="3.35" fill="#ff5252"/>
<circle cx="1322.0" cy="77.31" r="3.35" fill="#ff5252"/>
<circle cx="1329.5" cy="77.43" r="3.35" fill="#ff5252"/>
<circle cx="1337.1" cy="77.44" r="3.35" fill="#ff5252"/>
<circle cx="1344.6" cy="77.43" r="3.35" fill="#4caf50"/>
<circle cx="1352.2" cy="77.31" r="3.35" fill="#4caf50"/>
<circle cx="1359.7" cy="77.13" r="3.35" fill="#4caf50"/>
<circle cx="1367.3" cy="76.94" r="3.35" fill="#4caf50"/>
<circle cx="1374.8" cy="76.77" r="3.35" fill="#4caf50"/>
<circle cx="1382.4" cy="76.74" r="3.35" fill="#4caf50"/>
<circle cx="1389.9" cy="76.83" r="3.35" fill="#ff5252"/>
<circle cx="1397.4" cy="77.04" r="3.35" fill="#ff5252"/>
<circle cx="1405.0" cy="77.56" r="3.35" fill="#ff5252"/>
<circle cx="1412.5" cy="78.46" r="3.35" fill="#ff5252"/>
<circle cx="1420.1" cy="79.80" r="3.35" fill="#ff5252"/>
<circle cx="1427.6" cy="81.55" r="3.35" fill="#ff5252"/>
<circle cx="1435.2" cy="83.52" r="3.35" fill="#ff5252"/>
<circle cx="1442.7" cy="85.55" r="3.35" fill="#ff5252"/>
<circle cx="1450.3" cy="87.67" r="3.35" fill="#ff5252"/>
<circle cx="1457.8" cy="89.94" r="3.35" fill="#ff5252"/>
<circle cx="1465.4" cy="92.37" r="3.35" fill="#ff5252"/>
<circle cx="1472.9" cy="94.99" r="3.35" fill="#ff5252"/>
<circle cx="1480.5" cy="97.71" r="3.35" fill="#ff5252"/>
</g>
</g>
<path d="M1482.5 243.5 L1489 237.0 L1489 233.0 L1544 233.0 L1544 254.0 L1489 254.0 L1489 250.0 Z" fill="#1ca380"/>
<text class="lb" x="1492.5" y="247.8">48792.00</text>
<path d="M1482.5 120.5 L1489 114.0 L1489 110.0 L1544 110.0 L1544 131.0 L1489 131.0 L1489 127.0 Z" fill="#1ca380"/>
<text class="lb" x="1492.5" y="124.8">50085.10</text>
<path d="M1482.5 97.5 L1489 91.0 L1489 87.0 L1544 87.0 L1544 108.0 L1489 108.0 L1489 104.0 Z" fill="#ff5252"/>
<text class="lb" x="1492.5" y="101.8">50323.07</text>
<text class="hl" x="33.0" y="16" textLength="137.8" lengthAdjust="spacingAndGlyphs">NSE:BANKNIFTY-I (30m)</text>
<text class="hl" x="181.8" y="16" textLength="12.0" lengthAdjust="spacingAndGlyphs">O:</text>
<text class="hv" transform="scale(1.06,1)" y="16" x="187.64 194.34 201.26 208.16 215.12 221.97 223.98 229.72">50080.10</text>
<text class="hl" x="256.0" y="16" textLength="11.0" lengthAdjust="spacingAndGlyphs">H:</text>
<text class="hv" transform="scale(1.06,1)" y="16" x="256.33 262.85 268.15 272.29 277.88 284.60 287.96 294.71">50110.00</text>
<text class="hl" x="325.4" y="16" textLength="10.6" lengthAdjust="spacingAndGlyphs">L:</text>
<text class="hv" transform="scale(1.06,1)" y="16" x="319.59 326.43 333.51 340.59 347.66 354.62 358.23 365.30">50000.00</text>
<text class="hl" x="400.0" y="16" textLength="11.4" lengthAdjust="spacingAndGlyphs">C:</text>
<text class="hv" transform="scale(1.06,1)" y="16" x="393.48 400.16 407.08 413.96 420.67 427.28 429.28 435.01">50085.10</text>
<text class="hl" x="473.7" y="16" textLength="10.8" lengthAdjust="spacingAndGlyphs">V:</text>
<text class="hv" transform="scale(1.06,1)" y="16" x="461.65 468.07 474.78 477.92 483.00 487.74">36.51K</text>
<text class="hl" x="530.0" y="16" textLength="15.5" lengthAdjust="spacingAndGlyphs">OI:</text>
<text class="hv" transform="scale(1.06,1)" y="16" x="519.14 525.60 528.44 533.21 538.69">2.71M</text>
<text class="hv" transform="scale(1.06,1)" y="16" x="555.26 560.66 566.08 572.56 575.91 582.72">+13.80</text>
<text class="hv" transform="scale(1.06,1)" y="16" x="598.15 602.25 609.37 616.30 619.88 626.71 633.39 644.37">(+0.03%)</text>
</svg>
</body></html>
